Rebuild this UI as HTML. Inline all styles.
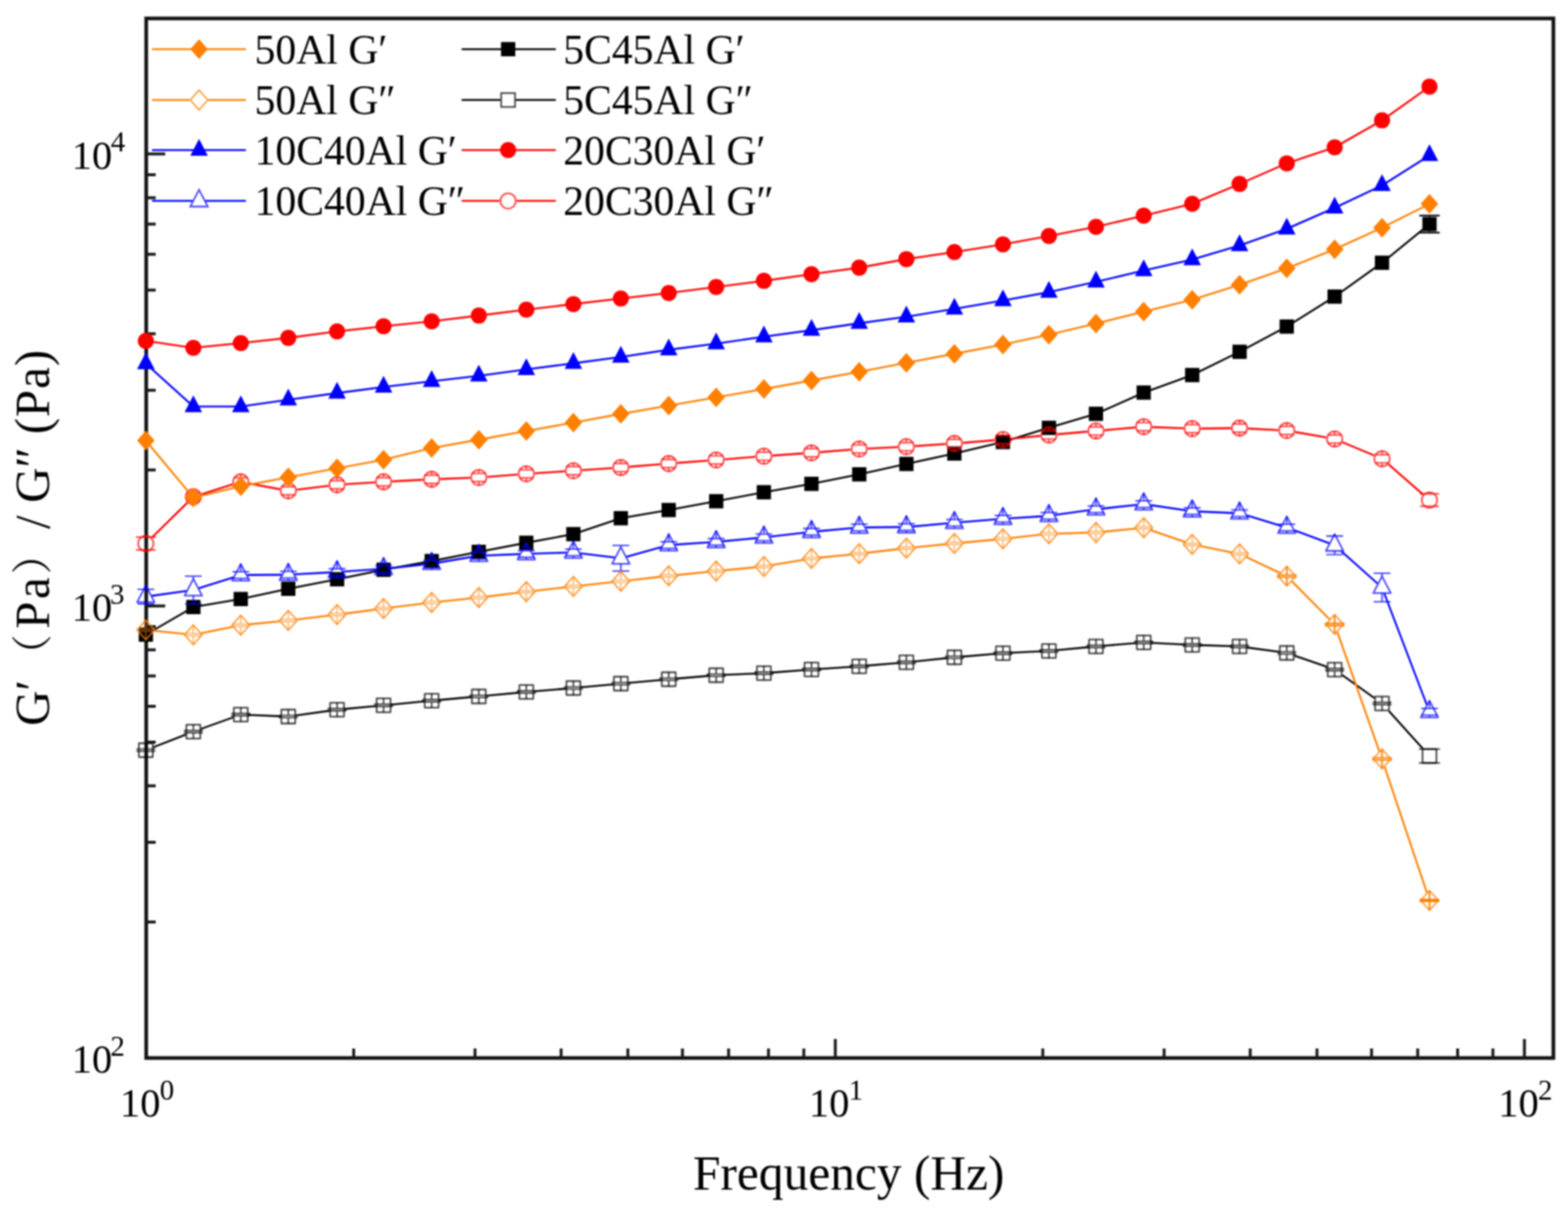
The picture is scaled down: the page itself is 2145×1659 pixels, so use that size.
<!DOCTYPE html>
<html><head><meta charset="utf-8"><title>G' / G'' vs Frequency</title>
<style>
html,body{margin:0;padding:0;background:#fff;}
body{width:2145px;height:1659px;overflow:hidden;}
svg{display:block;filter:blur(1px);}
text{font-family:"Liberation Serif","Noto Serif CJK SC",serif;fill:#000;}
</style></head><body>
<svg width="2145" height="1659" viewBox="0 0 2145 1659">
<rect width="2145" height="1659" fill="#fff"/>
<g stroke="#000" fill="none">
<rect x="200" y="25.2" width="1925" height="1421.8" stroke-width="5" stroke="#111"/>
<path d="M483.8 1447V1434M649.8 1447V1434M767.6 1447V1434M858.9 1447V1434M933.6 1447V1434M996.7 1447V1434M1051.3 1447V1434M1099.6 1447V1434M1142.7 1447V1421M1426.5 1447V1434M1592.5 1447V1434M1710.3 1447V1434M1801.6 1447V1434M1876.3 1447V1434M1939.4 1447V1434M1994 1447V1434M2042.3 1447V1434M2085.4 1447V1421M200 1260.9H213M200 1152H213M200 1074.8H213M200 1014.9H213M200 965.9H213M200 924.6H213M200 888.7H213M200 857.1H213M200 828.8H226M200 642.7H213M200 533.8H213M200 456.6H213M200 396.7H213M200 347.7H213M200 306.4H213M200 270.5H213M200 238.9H213M200 210.6H226" stroke-width="4" stroke="#1a1a1a"/>
</g>
<g stroke-linejoin="round">
<path d="M210 1021.9L254 1004.8M275 996.9L318.9 981.1M339.9 977.7L383.9 979.6M404.9 978.5L450.6 972.1M471.6 969.6L514.2 965.7M535.2 963.7L580 959.3M601 957.4L644.5 953.4M665.5 951.5L709.5 947.4M730.5 945.5L773.9 941.9M794.9 940L838.8 936M859.8 934L904.3 930M925.3 928.1L969.2 924.4M990.2 923L1034.5 921.2M1055.5 919.9L1099.6 916.5M1120.6 915L1164.9 912M1185.9 910.4L1229.4 906.8M1250.4 904.8L1295.1 900.1M1316.1 898.1L1361.5 894.2M1382.5 892.8L1424.4 890.8M1445.4 889.3L1488.8 885.1M1509.8 883.2L1554.1 879.5M1575.1 879.2L1620.4 881.5M1641.4 882.4L1685.2 883.8M1706.2 885.6L1749.8 891.5M1770.8 896.7L1815.3 912.1M1836.2 923.2L1880.2 954.7M1899.9 972.4L1946.2 1023.7" fill="none" stroke="#000000" stroke-width="2.6"/>
<rect x="190" y="1016.5" width="19" height="19" fill="none" stroke="#000000" stroke-width="2.3" stroke-opacity="0.72"/>
<path d="M199.5 1016.2V1024.5M199.5 1035.8V1027.5M186.5 1024.5H212.5M186.5 1027.5H212.5" stroke="#000000" stroke-width="2.2" stroke-opacity="0.72" fill="none"/>
<rect x="255" y="991.2" width="19" height="19" fill="none" stroke="#000000" stroke-width="2.3" stroke-opacity="0.72"/>
<path d="M264.5 991V999.2M264.5 1010.5V1002.2M251.5 999.2H277.5M251.5 1002.2H277.5" stroke="#000000" stroke-width="2.2" stroke-opacity="0.72" fill="none"/>
<rect x="319.9" y="967.8" width="19" height="19" fill="none" stroke="#000000" stroke-width="2.3" stroke-opacity="0.72"/>
<path d="M329.4 967.5V975.8M329.4 987V978.8M316.4 975.8H342.4M316.4 978.8H342.4" stroke="#000000" stroke-width="2.2" stroke-opacity="0.72" fill="none"/>
<rect x="384.9" y="970.5" width="19" height="19" fill="none" stroke="#000000" stroke-width="2.3" stroke-opacity="0.72"/>
<path d="M394.4 970.2V978.5M394.4 989.8V981.5M381.4 978.5H407.4M381.4 981.5H407.4" stroke="#000000" stroke-width="2.2" stroke-opacity="0.72" fill="none"/>
<rect x="451.6" y="961.1" width="19" height="19" fill="none" stroke="#000000" stroke-width="2.3" stroke-opacity="0.72"/>
<path d="M461.1 960.9V969.1M461.1 980.4V972.1M448.1 969.1H474.1M448.1 972.1H474.1" stroke="#000000" stroke-width="2.2" stroke-opacity="0.72" fill="none"/>
<rect x="515.2" y="955.2" width="19" height="19" fill="none" stroke="#000000" stroke-width="2.3" stroke-opacity="0.72"/>
<path d="M524.7 955V963.2M524.7 974.5V966.2M511.7 963.2H537.7M511.7 966.2H537.7" stroke="#000000" stroke-width="2.2" stroke-opacity="0.72" fill="none"/>
<rect x="581" y="948.8" width="19" height="19" fill="none" stroke="#000000" stroke-width="2.3" stroke-opacity="0.72"/>
<path d="M590.5 948.5V956.8M590.5 968V959.8M577.5 956.8H603.5M577.5 959.8H603.5" stroke="#000000" stroke-width="2.2" stroke-opacity="0.72" fill="none"/>
<rect x="645.5" y="943" width="19" height="19" fill="none" stroke="#000000" stroke-width="2.3" stroke-opacity="0.72"/>
<path d="M655 942.8V951M655 962.2V954M642 951H668M642 954H668" stroke="#000000" stroke-width="2.2" stroke-opacity="0.72" fill="none"/>
<rect x="710.5" y="936.9" width="19" height="19" fill="none" stroke="#000000" stroke-width="2.3" stroke-opacity="0.72"/>
<path d="M720 936.6V944.9M720 956.1V947.9M707 944.9H733M707 947.9H733" stroke="#000000" stroke-width="2.2" stroke-opacity="0.72" fill="none"/>
<rect x="774.9" y="931.5" width="19" height="19" fill="none" stroke="#000000" stroke-width="2.3" stroke-opacity="0.72"/>
<path d="M784.4 931.2V939.5M784.4 950.8V942.5M771.4 939.5H797.4M771.4 942.5H797.4" stroke="#000000" stroke-width="2.2" stroke-opacity="0.72" fill="none"/>
<rect x="839.8" y="925.5" width="19" height="19" fill="none" stroke="#000000" stroke-width="2.3" stroke-opacity="0.72"/>
<path d="M849.3 925.2V933.5M849.3 944.8V936.5M836.3 933.5H862.3M836.3 936.5H862.3" stroke="#000000" stroke-width="2.2" stroke-opacity="0.72" fill="none"/>
<rect x="905.3" y="919.5" width="19" height="19" fill="none" stroke="#000000" stroke-width="2.3" stroke-opacity="0.72"/>
<path d="M914.8 919.2V927.5M914.8 938.8V930.5M901.8 927.5H927.8M901.8 930.5H927.8" stroke="#000000" stroke-width="2.2" stroke-opacity="0.72" fill="none"/>
<rect x="970.2" y="914" width="19" height="19" fill="none" stroke="#000000" stroke-width="2.3" stroke-opacity="0.72"/>
<path d="M979.7 913.8V922M979.7 933.2V925M966.7 922H992.7M966.7 925H992.7" stroke="#000000" stroke-width="2.2" stroke-opacity="0.72" fill="none"/>
<rect x="1035.5" y="911.2" width="19" height="19" fill="none" stroke="#000000" stroke-width="2.3" stroke-opacity="0.72"/>
<path d="M1045 911V919.2M1045 930.5V922.2M1032 919.2H1058M1032 922.2H1058" stroke="#000000" stroke-width="2.2" stroke-opacity="0.72" fill="none"/>
<rect x="1100.6" y="906.2" width="19" height="19" fill="none" stroke="#000000" stroke-width="2.3" stroke-opacity="0.72"/>
<path d="M1110.1 906V914.2M1110.1 925.5V917.2M1097.1 914.2H1123.1M1097.1 917.2H1123.1" stroke="#000000" stroke-width="2.2" stroke-opacity="0.72" fill="none"/>
<rect x="1165.9" y="901.8" width="19" height="19" fill="none" stroke="#000000" stroke-width="2.3" stroke-opacity="0.72"/>
<path d="M1175.4 901.5V909.8M1175.4 921V912.8M1162.4 909.8H1188.4M1162.4 912.8H1188.4" stroke="#000000" stroke-width="2.2" stroke-opacity="0.72" fill="none"/>
<rect x="1230.4" y="896.4" width="19" height="19" fill="none" stroke="#000000" stroke-width="2.3" stroke-opacity="0.72"/>
<path d="M1239.9 896.1V904.4M1239.9 915.6V907.4M1226.9 904.4H1252.9M1226.9 907.4H1252.9" stroke="#000000" stroke-width="2.2" stroke-opacity="0.72" fill="none"/>
<rect x="1296.1" y="889.5" width="19" height="19" fill="none" stroke="#000000" stroke-width="2.3" stroke-opacity="0.72"/>
<path d="M1305.6 889.2V897.5M1305.6 908.8V900.5M1292.6 897.5H1318.6M1292.6 900.5H1318.6" stroke="#000000" stroke-width="2.2" stroke-opacity="0.72" fill="none"/>
<rect x="1362.5" y="883.8" width="19" height="19" fill="none" stroke="#000000" stroke-width="2.3" stroke-opacity="0.72"/>
<path d="M1372 883.5V891.8M1372 903V894.8M1359 891.8H1385M1359 894.8H1385" stroke="#000000" stroke-width="2.2" stroke-opacity="0.72" fill="none"/>
<rect x="1425.4" y="880.8" width="19" height="19" fill="none" stroke="#000000" stroke-width="2.3" stroke-opacity="0.72"/>
<path d="M1434.9 880.5V888.8M1434.9 900V891.8M1421.9 888.8H1447.9M1421.9 891.8H1447.9" stroke="#000000" stroke-width="2.2" stroke-opacity="0.72" fill="none"/>
<rect x="1489.8" y="874.6" width="19" height="19" fill="none" stroke="#000000" stroke-width="2.3" stroke-opacity="0.72"/>
<path d="M1499.3 874.4V882.6M1499.3 893.9V885.6M1486.3 882.6H1512.3M1486.3 885.6H1512.3" stroke="#000000" stroke-width="2.2" stroke-opacity="0.72" fill="none"/>
<rect x="1555.1" y="869.1" width="19" height="19" fill="none" stroke="#000000" stroke-width="2.3" stroke-opacity="0.72"/>
<path d="M1564.6 868.9V877.1M1564.6 888.4V880.1M1551.6 877.1H1577.6M1551.6 880.1H1577.6" stroke="#000000" stroke-width="2.2" stroke-opacity="0.72" fill="none"/>
<rect x="1621.4" y="872.6" width="19" height="19" fill="none" stroke="#000000" stroke-width="2.3" stroke-opacity="0.72"/>
<path d="M1630.9 872.4V880.6M1630.9 891.9V883.6M1617.9 880.6H1643.9M1617.9 883.6H1643.9" stroke="#000000" stroke-width="2.2" stroke-opacity="0.72" fill="none"/>
<rect x="1686.2" y="874.6" width="19" height="19" fill="none" stroke="#000000" stroke-width="2.3" stroke-opacity="0.72"/>
<path d="M1695.7 874.4V882.6M1695.7 893.9V885.6M1682.7 882.6H1708.7M1682.7 885.6H1708.7" stroke="#000000" stroke-width="2.2" stroke-opacity="0.72" fill="none"/>
<rect x="1750.8" y="883.5" width="19" height="19" fill="none" stroke="#000000" stroke-width="2.3" stroke-opacity="0.72"/>
<path d="M1760.3 883.2V891.5M1760.3 902.8V894.5M1747.3 891.5H1773.3M1747.3 894.5H1773.3" stroke="#000000" stroke-width="2.2" stroke-opacity="0.72" fill="none"/>
<rect x="1816.3" y="906.3" width="19" height="19" fill="none" stroke="#000000" stroke-width="2.3" stroke-opacity="0.72"/>
<path d="M1825.8 906V914.3M1825.8 925.5V917.3M1812.8 914.3H1838.8M1812.8 917.3H1838.8" stroke="#000000" stroke-width="2.2" stroke-opacity="0.72" fill="none"/>
<rect x="1881.1" y="952.6" width="19" height="19" fill="none" stroke="#000000" stroke-width="2.3" stroke-opacity="0.72"/>
<path d="M1890.6 952.4V960.6M1890.6 971.9V963.6M1877.6 960.6H1903.6M1877.6 963.6H1903.6" stroke="#000000" stroke-width="2.2" stroke-opacity="0.72" fill="none"/>
<rect x="1946" y="1024.5" width="19" height="19" fill="none" stroke="#000000" stroke-width="2.3" stroke-opacity="0.72"/>
<path d="M1955.5 1024.2V1024.5M1955.5 1043.8V1043.5M1941 1024.5H1970M1941 1043.5H1970" stroke="#000000" stroke-width="2.2" stroke-opacity="0.72" fill="none"/>
<polyline points="199.5,868 264.5,830.2 329.4,819.3 394.4,805.2 461.1,792.2 524.7,779.2 590.5,767.4 655,754.8 720,742.4 784.4,730.5 849.3,708.8 914.8,697.5 979.7,685.5 1045,673.3 1110.1,661.8 1175.4,648.8 1239.9,634.5 1305.6,620.2 1372,604.5 1434.9,585.1 1499.3,566 1564.6,537 1630.9,513 1695.7,481.1 1760.3,446.6 1825.8,405.7 1890.6,359.4 1955.5,306.5" fill="none" stroke="#000000" stroke-width="2.6"/>
<rect x="189.8" y="858.2" width="19.5" height="19.5" fill="#000000"/>

<rect x="254.8" y="820.5" width="19.5" height="19.5" fill="#000000"/>

<rect x="319.6" y="809.5" width="19.5" height="19.5" fill="#000000"/>

<rect x="384.6" y="795.5" width="19.5" height="19.5" fill="#000000"/>

<rect x="451.4" y="782.5" width="19.5" height="19.5" fill="#000000"/>

<rect x="515" y="769.5" width="19.5" height="19.5" fill="#000000"/>

<rect x="580.8" y="757.6" width="19.5" height="19.5" fill="#000000"/>

<rect x="645.2" y="745" width="19.5" height="19.5" fill="#000000"/>

<rect x="710.2" y="732.6" width="19.5" height="19.5" fill="#000000"/>

<rect x="774.6" y="720.8" width="19.5" height="19.5" fill="#000000"/>

<rect x="839.5" y="699" width="19.5" height="19.5" fill="#000000"/>

<rect x="905" y="687.8" width="19.5" height="19.5" fill="#000000"/>

<rect x="970" y="675.8" width="19.5" height="19.5" fill="#000000"/>

<rect x="1035.2" y="663.5" width="19.5" height="19.5" fill="#000000"/>

<rect x="1100.3" y="652" width="19.5" height="19.5" fill="#000000"/>

<rect x="1165.7" y="639" width="19.5" height="19.5" fill="#000000"/>

<rect x="1230.2" y="624.8" width="19.5" height="19.5" fill="#000000"/>

<rect x="1295.8" y="610.5" width="19.5" height="19.5" fill="#000000"/>

<rect x="1362.2" y="594.8" width="19.5" height="19.5" fill="#000000"/>

<rect x="1425.2" y="575.4" width="19.5" height="19.5" fill="#000000"/>

<rect x="1489.5" y="556.2" width="19.5" height="19.5" fill="#000000"/>

<rect x="1554.8" y="527.2" width="19.5" height="19.5" fill="#000000"/>

<rect x="1621.2" y="503.2" width="19.5" height="19.5" fill="#000000"/>

<rect x="1686" y="471.4" width="19.5" height="19.5" fill="#000000"/>

<rect x="1750.5" y="436.9" width="19.5" height="19.5" fill="#000000"/>

<rect x="1816" y="395.9" width="19.5" height="19.5" fill="#000000"/>

<rect x="1880.8" y="349.6" width="19.5" height="19.5" fill="#000000"/>

<rect x="1945.8" y="296.8" width="19.5" height="19.5" fill="#000000"/>
<path d="M1955.5 296.8V294.8M1955.5 316.2V318.2M1941.5 294.8H1969.5M1941.5 318.2H1969.5" stroke="#000000" stroke-width="2.2" fill="none"/>
<path d="M207.8 814.9L255.1 808.3M272.1 804.6L319.1 789.8M338.2 786.4L385.6 786.1M403 785.5L452.1 782.9M469.6 781.8L515.6 778.6M533.1 777.1L581.2 772M598.6 769.6L645.4 761.6M663.6 759.7L711 757.9M728.7 757.3L775.5 755.8M793.7 756.7L841 762.5M857.1 761.4L904.7 748.3M923.3 744.9L970.6 741.8M988.1 740.4L1035.8 735.9M1053.3 734L1100.8 728.5M1118.5 726.6L1166.2 722.3M1184.2 721.4L1231.1 720.9M1248.3 720.1L1296.4 715.8M1314.1 714.3L1362.8 710.3M1380.5 709L1425.8 706.1M1443.1 704.3L1489.9 697.8M1507.7 695.6L1555.3 690.5M1574.1 690.9L1622.7 698M1639.9 699.6L1687.1 701.6M1706 705.1L1752.6 719.2M1771 725.5L1818.3 743M1835 754L1884.5 798.1M1893.8 811.9L1951.8 963.9" fill="none" stroke="#0000ff" stroke-width="2.6"/>
<path d="M199.5 800.7L211.5 823.7L187.5 823.7Z" fill="none" stroke="#0000ff" stroke-width="2.3" stroke-opacity="0.72"/>
<path d="M199.5 800.7V806M199.5 823.7V826M188 806H211M188 826H211" stroke="#0000ff" stroke-width="2.2" stroke-opacity="0.72" fill="none"/>
<path d="M264.5 791.7L276.5 814.7L252.5 814.7Z" fill="none" stroke="#0000ff" stroke-width="2.3" stroke-opacity="0.72"/>
<path d="M264.5 791.7V788M264.5 814.7V826M253 788H276M253 826H276" stroke="#0000ff" stroke-width="2.2" stroke-opacity="0.72" fill="none"/>
<path d="M329.4 771.2L341.4 794.2L317.4 794.2Z" fill="none" stroke="#0000ff" stroke-width="2.3" stroke-opacity="0.72"/>
<path d="M329.4 771.2V782M329.4 794.2V791M317.9 782H340.9M317.9 791H340.9" stroke="#0000ff" stroke-width="2.2" stroke-opacity="0.72" fill="none"/>
<path d="M394.4 770.7L406.4 793.7L382.4 793.7Z" fill="none" stroke="#0000ff" stroke-width="2.3" stroke-opacity="0.72"/>
<path d="M394.4 770.7V781.5M394.4 793.7V790.5M382.9 781.5H405.9M382.9 790.5H405.9" stroke="#0000ff" stroke-width="2.2" stroke-opacity="0.72" fill="none"/>
<path d="M461.1 767.1L473.1 790.1L449.1 790.1Z" fill="none" stroke="#0000ff" stroke-width="2.3" stroke-opacity="0.72"/>
<path d="M461.1 767.1V777.9M461.1 790.1V786.9M449.6 777.9H472.6M449.6 786.9H472.6" stroke="#0000ff" stroke-width="2.2" stroke-opacity="0.72" fill="none"/>
<path d="M524.7 762.7L536.7 785.7L512.7 785.7Z" fill="none" stroke="#0000ff" stroke-width="2.3" stroke-opacity="0.72"/>
<path d="M524.7 762.7V773.5M524.7 785.7V782.5M513.2 773.5H536.2M513.2 782.5H536.2" stroke="#0000ff" stroke-width="2.2" stroke-opacity="0.72" fill="none"/>
<path d="M590.5 755.7L602.5 778.7L578.5 778.7Z" fill="none" stroke="#0000ff" stroke-width="2.3" stroke-opacity="0.72"/>
<path d="M590.5 755.7V766.5M590.5 778.7V775.5M579 766.5H602M579 775.5H602" stroke="#0000ff" stroke-width="2.2" stroke-opacity="0.72" fill="none"/>
<path d="M655 744.7L667 767.7L643 767.7Z" fill="none" stroke="#0000ff" stroke-width="2.3" stroke-opacity="0.72"/>
<path d="M655 744.7V755.5M655 767.7V764.5M643.5 755.5H666.5M643.5 764.5H666.5" stroke="#0000ff" stroke-width="2.2" stroke-opacity="0.72" fill="none"/>
<path d="M720 742.3L732 765.3L708 765.3Z" fill="none" stroke="#0000ff" stroke-width="2.3" stroke-opacity="0.72"/>
<path d="M720 742.3V753.1M720 765.3V762.1M708.5 753.1H731.5M708.5 762.1H731.5" stroke="#0000ff" stroke-width="2.2" stroke-opacity="0.72" fill="none"/>
<path d="M784.4 740.2L796.4 763.2L772.4 763.2Z" fill="none" stroke="#0000ff" stroke-width="2.3" stroke-opacity="0.72"/>
<path d="M784.4 740.2V751M784.4 763.2V760M772.9 751H795.9M772.9 760H795.9" stroke="#0000ff" stroke-width="2.2" stroke-opacity="0.72" fill="none"/>
<path d="M849.3 748.2L861.3 771.2L837.3 771.2Z" fill="none" stroke="#0000ff" stroke-width="2.3" stroke-opacity="0.72"/>
<path d="M849.3 748.2V746M849.3 771.2V781M837.8 746H860.8M837.8 781H860.8" stroke="#0000ff" stroke-width="2.2" stroke-opacity="0.72" fill="none"/>
<path d="M914.8 730.2L926.8 753.2L902.8 753.2Z" fill="none" stroke="#0000ff" stroke-width="2.3" stroke-opacity="0.72"/>
<path d="M914.8 730.2V741M914.8 753.2V750M903.3 741H926.3M903.3 750H926.3" stroke="#0000ff" stroke-width="2.2" stroke-opacity="0.72" fill="none"/>
<path d="M979.7 725.9L991.7 748.9L967.7 748.9Z" fill="none" stroke="#0000ff" stroke-width="2.3" stroke-opacity="0.72"/>
<path d="M979.7 725.9V736.7M979.7 748.9V745.7M968.2 736.7H991.2M968.2 745.7H991.2" stroke="#0000ff" stroke-width="2.2" stroke-opacity="0.72" fill="none"/>
<path d="M1045 719.7L1057 742.7L1033 742.7Z" fill="none" stroke="#0000ff" stroke-width="2.3" stroke-opacity="0.72"/>
<path d="M1045 719.7V730.5M1045 742.7V739.5M1033.5 730.5H1056.5M1033.5 739.5H1056.5" stroke="#0000ff" stroke-width="2.2" stroke-opacity="0.72" fill="none"/>
<path d="M1110.1 712.1L1122.1 735.1L1098.1 735.1Z" fill="none" stroke="#0000ff" stroke-width="2.3" stroke-opacity="0.72"/>
<path d="M1110.1 712.1V722.9M1110.1 735.1V731.9M1098.6 722.9H1121.6M1098.6 731.9H1121.6" stroke="#0000ff" stroke-width="2.2" stroke-opacity="0.72" fill="none"/>
<path d="M1175.4 706.2L1187.4 729.2L1163.4 729.2Z" fill="none" stroke="#0000ff" stroke-width="2.3" stroke-opacity="0.72"/>
<path d="M1175.4 706.2V717M1175.4 729.2V726M1163.9 717H1186.9M1163.9 726H1186.9" stroke="#0000ff" stroke-width="2.2" stroke-opacity="0.72" fill="none"/>
<path d="M1239.9 705.5L1251.9 728.5L1227.9 728.5Z" fill="none" stroke="#0000ff" stroke-width="2.3" stroke-opacity="0.72"/>
<path d="M1239.9 705.5V716.3M1239.9 728.5V725.3M1228.4 716.3H1251.4M1228.4 725.3H1251.4" stroke="#0000ff" stroke-width="2.2" stroke-opacity="0.72" fill="none"/>
<path d="M1305.6 699.7L1317.6 722.7L1293.6 722.7Z" fill="none" stroke="#0000ff" stroke-width="2.3" stroke-opacity="0.72"/>
<path d="M1305.6 699.7V710.5M1305.6 722.7V719.5M1294.1 710.5H1317.1M1294.1 719.5H1317.1" stroke="#0000ff" stroke-width="2.2" stroke-opacity="0.72" fill="none"/>
<path d="M1372 694.2L1384 717.2L1360 717.2Z" fill="none" stroke="#0000ff" stroke-width="2.3" stroke-opacity="0.72"/>
<path d="M1372 694.2V705M1372 717.2V714M1360.5 705H1383.5M1360.5 714H1383.5" stroke="#0000ff" stroke-width="2.2" stroke-opacity="0.72" fill="none"/>
<path d="M1434.9 690.2L1446.9 713.2L1422.9 713.2Z" fill="none" stroke="#0000ff" stroke-width="2.3" stroke-opacity="0.72"/>
<path d="M1434.9 690.2V701M1434.9 713.2V710M1423.4 701H1446.4M1423.4 710H1446.4" stroke="#0000ff" stroke-width="2.2" stroke-opacity="0.72" fill="none"/>
<path d="M1499.3 681.2L1511.3 704.2L1487.3 704.2Z" fill="none" stroke="#0000ff" stroke-width="2.3" stroke-opacity="0.72"/>
<path d="M1499.3 681.2V692M1499.3 704.2V701M1487.8 692H1510.8M1487.8 701H1510.8" stroke="#0000ff" stroke-width="2.2" stroke-opacity="0.72" fill="none"/>
<path d="M1564.6 674.2L1576.6 697.2L1552.6 697.2Z" fill="none" stroke="#0000ff" stroke-width="2.3" stroke-opacity="0.72"/>
<path d="M1564.6 674.2V685M1564.6 697.2V694M1553.1 685H1576.1M1553.1 694H1576.1" stroke="#0000ff" stroke-width="2.2" stroke-opacity="0.72" fill="none"/>
<path d="M1630.9 683.9L1642.9 706.9L1618.9 706.9Z" fill="none" stroke="#0000ff" stroke-width="2.3" stroke-opacity="0.72"/>
<path d="M1630.9 683.9V694.7M1630.9 706.9V703.7M1619.4 694.7H1642.4M1619.4 703.7H1642.4" stroke="#0000ff" stroke-width="2.2" stroke-opacity="0.72" fill="none"/>
<path d="M1695.7 686.7L1707.7 709.7L1683.7 709.7Z" fill="none" stroke="#0000ff" stroke-width="2.3" stroke-opacity="0.72"/>
<path d="M1695.7 686.7V697.5M1695.7 709.7V706.5M1684.2 697.5H1707.2M1684.2 706.5H1707.2" stroke="#0000ff" stroke-width="2.2" stroke-opacity="0.72" fill="none"/>
<path d="M1760.3 706.2L1772.3 729.2L1748.3 729.2Z" fill="none" stroke="#0000ff" stroke-width="2.3" stroke-opacity="0.72"/>
<path d="M1760.3 706.2V717M1760.3 729.2V726M1748.8 717H1771.8M1748.8 726H1771.8" stroke="#0000ff" stroke-width="2.2" stroke-opacity="0.72" fill="none"/>
<path d="M1825.8 730.5L1837.8 753.5L1813.8 753.5Z" fill="none" stroke="#0000ff" stroke-width="2.3" stroke-opacity="0.72"/>
<path d="M1825.8 730.5V733.1M1825.8 753.5V758.5M1814.3 733.1H1837.3M1814.3 758.5H1837.3" stroke="#0000ff" stroke-width="2.2" stroke-opacity="0.72" fill="none"/>
<path d="M1890.6 788.2L1902.6 811.2L1878.6 811.2Z" fill="none" stroke="#0000ff" stroke-width="2.3" stroke-opacity="0.72"/>
<path d="M1890.6 788.2V784M1890.6 811.2V823M1879.1 784H1902.1M1879.1 823H1902.1" stroke="#0000ff" stroke-width="2.2" stroke-opacity="0.72" fill="none"/>
<path d="M1955.5 958.2L1967.5 981.2L1943.5 981.2Z" fill="none" stroke="#0000ff" stroke-width="2.3" stroke-opacity="0.72"/>
<path d="M1955.5 958.2V969M1955.5 981.2V978M1944 969H1967M1944 978H1967" stroke="#0000ff" stroke-width="2.2" stroke-opacity="0.72" fill="none"/>
<path d="M211.3 862.8L252.7 867M275.5 866L318.4 857.3M341.2 853.9L382.6 849.8M406 847.2L449.5 842M472.6 839.1L513.2 833.8M536.3 830.8L578.9 825.5M602.3 822.8L643.2 818.5M666.6 815.9L708.4 810.7M731.7 808L772.7 803.4M796.1 800.8L837.6 796.3M861 793.7L903.1 788.9M926.6 786.4L967.9 782.3M991.5 779.9L1033.2 775.9M1056.2 772.8L1098.9 765.7M1121.9 762.6L1163.6 758.5M1187.1 755.9L1228.2 751.1M1251.7 748.5L1293.8 744.4M1317.5 742.1L1360.1 738.1M1383.7 735.7L1423.2 731.3M1447.4 729.7L1486.8 728.6M1511.1 727.1L1552.8 723M1574.5 725.2L1621 741.2M1641.9 746.8L1684.7 755.4M1704.9 761.9L1751.1 783.7M1767.2 795L1818.9 847.1M1829.5 864.5L1886.9 1027.6M1894.1 1048.6L1952 1220.9" fill="none" stroke="#ff7f00" stroke-width="2.6"/>
<path d="M199.5 848.1L211.5 861.6L199.5 875.1L187.5 861.6Z" fill="none" stroke="#ff7f00" stroke-width="2.3" stroke-opacity="0.72"/>
<path d="M199.5 848.1V860.1M199.5 875.1V863.1M188.5 860.1H210.5M188.5 863.1H210.5" stroke="#ff7f00" stroke-width="2.2" stroke-opacity="0.5" fill="none"/>
<path d="M264.5 854.7L276.5 868.2L264.5 881.7L252.5 868.2Z" fill="none" stroke="#ff7f00" stroke-width="2.3" stroke-opacity="0.72"/>
<path d="M264.5 854.7V866.7M264.5 881.7V869.7M253.5 866.7H275.5M253.5 869.7H275.5" stroke="#ff7f00" stroke-width="2.2" stroke-opacity="0.5" fill="none"/>
<path d="M329.4 841.6L341.4 855.1L329.4 868.6L317.4 855.1Z" fill="none" stroke="#ff7f00" stroke-width="2.3" stroke-opacity="0.72"/>
<path d="M329.4 841.6V853.6M329.4 868.6V856.6M318.4 853.6H340.4M318.4 856.6H340.4" stroke="#ff7f00" stroke-width="2.2" stroke-opacity="0.5" fill="none"/>
<path d="M394.4 835.1L406.4 848.6L394.4 862.1L382.4 848.6Z" fill="none" stroke="#ff7f00" stroke-width="2.3" stroke-opacity="0.72"/>
<path d="M394.4 835.1V847.1M394.4 862.1V850.1M383.4 847.1H405.4M383.4 850.1H405.4" stroke="#ff7f00" stroke-width="2.2" stroke-opacity="0.5" fill="none"/>
<path d="M461.1 827.1L473.1 840.6L461.1 854.1L449.1 840.6Z" fill="none" stroke="#ff7f00" stroke-width="2.3" stroke-opacity="0.72"/>
<path d="M461.1 827.1V839.1M461.1 854.1V842.1M450.1 839.1H472.1M450.1 842.1H472.1" stroke="#ff7f00" stroke-width="2.2" stroke-opacity="0.5" fill="none"/>
<path d="M524.7 818.8L536.7 832.3L524.7 845.8L512.7 832.3Z" fill="none" stroke="#ff7f00" stroke-width="2.3" stroke-opacity="0.72"/>
<path d="M524.7 818.8V830.8M524.7 845.8V833.8M513.7 830.8H535.7M513.7 833.8H535.7" stroke="#ff7f00" stroke-width="2.2" stroke-opacity="0.5" fill="none"/>
<path d="M590.5 810.5L602.5 824L590.5 837.5L578.5 824Z" fill="none" stroke="#ff7f00" stroke-width="2.3" stroke-opacity="0.72"/>
<path d="M590.5 810.5V822.5M590.5 837.5V825.5M579.5 822.5H601.5M579.5 825.5H601.5" stroke="#ff7f00" stroke-width="2.2" stroke-opacity="0.5" fill="none"/>
<path d="M655 803.8L667 817.3L655 830.8L643 817.3Z" fill="none" stroke="#ff7f00" stroke-width="2.3" stroke-opacity="0.72"/>
<path d="M655 803.8V815.8M655 830.8V818.8M644 815.8H666M644 818.8H666" stroke="#ff7f00" stroke-width="2.2" stroke-opacity="0.5" fill="none"/>
<path d="M720 795.8L732 809.3L720 822.8L708 809.3Z" fill="none" stroke="#ff7f00" stroke-width="2.3" stroke-opacity="0.72"/>
<path d="M720 795.8V807.8M720 822.8V810.8M709 807.8H731M709 810.8H731" stroke="#ff7f00" stroke-width="2.2" stroke-opacity="0.5" fill="none"/>
<path d="M784.4 788.6L796.4 802.1L784.4 815.6L772.4 802.1Z" fill="none" stroke="#ff7f00" stroke-width="2.3" stroke-opacity="0.72"/>
<path d="M784.4 788.6V800.6M784.4 815.6V803.6M773.4 800.6H795.4M773.4 803.6H795.4" stroke="#ff7f00" stroke-width="2.2" stroke-opacity="0.5" fill="none"/>
<path d="M849.3 781.5L861.3 795L849.3 808.5L837.3 795Z" fill="none" stroke="#ff7f00" stroke-width="2.3" stroke-opacity="0.72"/>
<path d="M849.3 781.5V793.5M849.3 808.5V796.5M838.3 793.5H860.3M838.3 796.5H860.3" stroke="#ff7f00" stroke-width="2.2" stroke-opacity="0.5" fill="none"/>
<path d="M914.8 774.1L926.8 787.6L914.8 801.1L902.8 787.6Z" fill="none" stroke="#ff7f00" stroke-width="2.3" stroke-opacity="0.72"/>
<path d="M914.8 774.1V786.1M914.8 801.1V789.1M903.8 786.1H925.8M903.8 789.1H925.8" stroke="#ff7f00" stroke-width="2.2" stroke-opacity="0.5" fill="none"/>
<path d="M979.7 767.6L991.7 781.1L979.7 794.6L967.7 781.1Z" fill="none" stroke="#ff7f00" stroke-width="2.3" stroke-opacity="0.72"/>
<path d="M979.7 767.6V779.6M979.7 794.6V782.6M968.7 779.6H990.7M968.7 782.6H990.7" stroke="#ff7f00" stroke-width="2.2" stroke-opacity="0.5" fill="none"/>
<path d="M1045 761.2L1057 774.7L1045 788.2L1033 774.7Z" fill="none" stroke="#ff7f00" stroke-width="2.3" stroke-opacity="0.72"/>
<path d="M1045 761.2V773.2M1045 788.2V776.2M1034 773.2H1056M1034 776.2H1056" stroke="#ff7f00" stroke-width="2.2" stroke-opacity="0.5" fill="none"/>
<path d="M1110.1 750.3L1122.1 763.8L1110.1 777.3L1098.1 763.8Z" fill="none" stroke="#ff7f00" stroke-width="2.3" stroke-opacity="0.72"/>
<path d="M1110.1 750.3V762.3M1110.1 777.3V765.3M1099.1 762.3H1121.1M1099.1 765.3H1121.1" stroke="#ff7f00" stroke-width="2.2" stroke-opacity="0.5" fill="none"/>
<path d="M1175.4 743.8L1187.4 757.3L1175.4 770.8L1163.4 757.3Z" fill="none" stroke="#ff7f00" stroke-width="2.3" stroke-opacity="0.72"/>
<path d="M1175.4 743.8V755.8M1175.4 770.8V758.8M1164.4 755.8H1186.4M1164.4 758.8H1186.4" stroke="#ff7f00" stroke-width="2.2" stroke-opacity="0.5" fill="none"/>
<path d="M1239.9 736.2L1251.9 749.7L1239.9 763.2L1227.9 749.7Z" fill="none" stroke="#ff7f00" stroke-width="2.3" stroke-opacity="0.72"/>
<path d="M1239.9 736.2V748.2M1239.9 763.2V751.2M1228.9 748.2H1250.9M1228.9 751.2H1250.9" stroke="#ff7f00" stroke-width="2.2" stroke-opacity="0.5" fill="none"/>
<path d="M1305.6 729.7L1317.6 743.2L1305.6 756.7L1293.6 743.2Z" fill="none" stroke="#ff7f00" stroke-width="2.3" stroke-opacity="0.72"/>
<path d="M1305.6 729.7V741.7M1305.6 756.7V744.7M1294.6 741.7H1316.6M1294.6 744.7H1316.6" stroke="#ff7f00" stroke-width="2.2" stroke-opacity="0.5" fill="none"/>
<path d="M1372 723.5L1384 737L1372 750.5L1360 737Z" fill="none" stroke="#ff7f00" stroke-width="2.3" stroke-opacity="0.72"/>
<path d="M1372 723.5V735.5M1372 750.5V738.5M1361 735.5H1383M1361 738.5H1383" stroke="#ff7f00" stroke-width="2.2" stroke-opacity="0.5" fill="none"/>
<path d="M1434.9 716.5L1446.9 730L1434.9 743.5L1422.9 730Z" fill="none" stroke="#ff7f00" stroke-width="2.3" stroke-opacity="0.72"/>
<path d="M1434.9 716.5V728.5M1434.9 743.5V731.5M1423.9 728.5H1445.9M1423.9 731.5H1445.9" stroke="#ff7f00" stroke-width="2.2" stroke-opacity="0.5" fill="none"/>
<path d="M1499.3 714.8L1511.3 728.3L1499.3 741.8L1487.3 728.3Z" fill="none" stroke="#ff7f00" stroke-width="2.3" stroke-opacity="0.72"/>
<path d="M1499.3 714.8V726.8M1499.3 741.8V729.8M1488.3 726.8H1510.3M1488.3 729.8H1510.3" stroke="#ff7f00" stroke-width="2.2" stroke-opacity="0.5" fill="none"/>
<path d="M1564.6 708.3L1576.6 721.8L1564.6 735.3L1552.6 721.8Z" fill="none" stroke="#ff7f00" stroke-width="2.3" stroke-opacity="0.72"/>
<path d="M1564.6 708.3V720.3M1564.6 735.3V723.3M1553.6 720.3H1575.6M1553.6 723.3H1575.6" stroke="#ff7f00" stroke-width="2.2" stroke-opacity="0.5" fill="none"/>
<path d="M1630.9 731.1L1642.9 744.6L1630.9 758.1L1618.9 744.6Z" fill="none" stroke="#ff7f00" stroke-width="2.3" stroke-opacity="0.72"/>
<path d="M1630.9 731.1V743.1M1630.9 758.1V746.1M1619.9 743.1H1641.9M1619.9 746.1H1641.9" stroke="#ff7f00" stroke-width="2.2" stroke-opacity="0.5" fill="none"/>
<path d="M1695.7 744.1L1707.7 757.6L1695.7 771.1L1683.7 757.6Z" fill="none" stroke="#ff7f00" stroke-width="2.3" stroke-opacity="0.72"/>
<path d="M1695.7 744.1V756.1M1695.7 771.1V759.1M1684.7 756.1H1706.7M1684.7 759.1H1706.7" stroke="#ff7f00" stroke-width="2.2" stroke-opacity="0.5" fill="none"/>
<path d="M1760.3 774.5L1772.3 788L1760.3 801.5L1748.3 788Z" fill="none" stroke="#ff7f00" stroke-width="2.3" stroke-opacity="0.72"/>
<path d="M1760.3 774.5V786.5M1760.3 801.5V789.5M1746.8 786.5H1773.8M1746.8 789.5H1773.8" stroke="#ff7f00" stroke-width="2.2" fill="none"/>
<path d="M1825.8 840.6L1837.8 854.1L1825.8 867.6L1813.8 854.1Z" fill="none" stroke="#ff7f00" stroke-width="2.3" stroke-opacity="0.72"/>
<path d="M1825.8 840.6V852.6M1825.8 867.6V855.6M1812.3 852.6H1839.3M1812.3 855.6H1839.3" stroke="#ff7f00" stroke-width="2.2" fill="none"/>
<path d="M1890.6 1024.5L1902.6 1038L1890.6 1051.5L1878.6 1038Z" fill="none" stroke="#ff7f00" stroke-width="2.3" stroke-opacity="0.72"/>
<path d="M1890.6 1024.5V1036.5M1890.6 1051.5V1039.5M1877.1 1036.5H1904.1M1877.1 1039.5H1904.1" stroke="#ff7f00" stroke-width="2.2" fill="none"/>
<path d="M1955.5 1218L1967.5 1231.5L1955.5 1245L1943.5 1231.5Z" fill="none" stroke="#ff7f00" stroke-width="2.3" stroke-opacity="0.72"/>
<path d="M1955.5 1218V1230.3M1955.5 1245V1232.7M1942 1230.3H1969M1942 1232.7H1969" stroke="#ff7f00" stroke-width="2.2" fill="none"/>
<path d="M207.9 735.1L256.1 687.8M275.8 675.9L318.1 662.6M341 661.2L382.8 669.1M406.1 669.8L449.4 664.5M472.9 662.3L512.9 659.7M536.5 658.4L578.7 656.1M602.3 655.1L643.2 653.5M666.8 652.2L708.2 649M731.8 647.3L772.6 644.6M796.2 643L837.5 640.2M861.1 638.4L903 635M926.6 633.1L967.9 630M991.5 628.2L1033.2 624.8M1056.8 623.1L1098.3 620.1M1121.9 618.4L1163.6 615M1187.2 613.5L1228.1 611.5M1251.7 610.1L1293.8 607.3M1317.4 605.6L1360.2 602.1M1383.7 600L1423.2 596.1M1446.7 593.9L1487.5 590.4M1511.1 588.4L1552.8 584.6M1576.4 584.1L1619.1 585.7M1642.7 586.1L1683.9 585.6M1707.5 586.1L1748.5 588.2M1771.9 590.9L1814.2 598.3M1836.7 604.9L1879.7 622.9M1899.5 635.1L1946.6 676.2" fill="none" stroke="#ff0000" stroke-width="2.6"/>
<circle cx="199.5" cy="743.4" r="10.5" fill="none" stroke="#ff0000" stroke-width="2.3" stroke-opacity="0.72"/>
<path d="M199.5 732.4V734.7M199.5 754.4V752.1M186 734.7H213M186 752.1H213" stroke="#ff0000" stroke-width="2.2" stroke-opacity="0.72" fill="none"/>
<circle cx="264.5" cy="679.5" r="10.5" fill="none" stroke="#ff0000" stroke-width="2.3" stroke-opacity="0.72"/>
<path d="M264.5 668.5V673.9M264.5 690.5V685.1M255 673.9H274M255 685.1H274" stroke="#ff0000" stroke-width="2.2" stroke-opacity="0.72" fill="none"/>
<circle cx="329.4" cy="659" r="10.5" fill="none" stroke="#ff0000" stroke-width="2.3" stroke-opacity="0.72"/>
<path d="M329.4 648V653.4M329.4 670V664.6M319.9 653.4H338.9M319.9 664.6H338.9" stroke="#ff0000" stroke-width="2.2" stroke-opacity="0.72" fill="none"/>
<circle cx="394.4" cy="671.3" r="10.5" fill="none" stroke="#ff0000" stroke-width="2.3" stroke-opacity="0.72"/>
<path d="M394.4 660.3V665.7M394.4 682.3V676.9M384.9 665.7H403.9M384.9 676.9H403.9" stroke="#ff0000" stroke-width="2.2" stroke-opacity="0.72" fill="none"/>
<circle cx="461.1" cy="663" r="10.5" fill="none" stroke="#ff0000" stroke-width="2.3" stroke-opacity="0.72"/>
<path d="M461.1 652V657.4M461.1 674V668.6M451.6 657.4H470.6M451.6 668.6H470.6" stroke="#ff0000" stroke-width="2.2" stroke-opacity="0.72" fill="none"/>
<circle cx="524.7" cy="659" r="10.5" fill="none" stroke="#ff0000" stroke-width="2.3" stroke-opacity="0.72"/>
<path d="M524.7 648V653.4M524.7 670V664.6M515.2 653.4H534.2M515.2 664.6H534.2" stroke="#ff0000" stroke-width="2.2" stroke-opacity="0.72" fill="none"/>
<circle cx="590.5" cy="655.5" r="10.5" fill="none" stroke="#ff0000" stroke-width="2.3" stroke-opacity="0.72"/>
<path d="M590.5 644.5V649.9M590.5 666.5V661.1M581 649.9H600M581 661.1H600" stroke="#ff0000" stroke-width="2.2" stroke-opacity="0.72" fill="none"/>
<circle cx="655" cy="653.1" r="10.5" fill="none" stroke="#ff0000" stroke-width="2.3" stroke-opacity="0.72"/>
<path d="M655 642.1V647.5M655 664.1V658.7M645.5 647.5H664.5M645.5 658.7H664.5" stroke="#ff0000" stroke-width="2.2" stroke-opacity="0.72" fill="none"/>
<circle cx="720" cy="648.1" r="10.5" fill="none" stroke="#ff0000" stroke-width="2.3" stroke-opacity="0.72"/>
<path d="M720 637.1V642.5M720 659.1V653.7M710.5 642.5H729.5M710.5 653.7H729.5" stroke="#ff0000" stroke-width="2.2" stroke-opacity="0.72" fill="none"/>
<circle cx="784.4" cy="643.8" r="10.5" fill="none" stroke="#ff0000" stroke-width="2.3" stroke-opacity="0.72"/>
<path d="M784.4 632.8V638.2M784.4 654.8V649.4M774.9 638.2H793.9M774.9 649.4H793.9" stroke="#ff0000" stroke-width="2.2" stroke-opacity="0.72" fill="none"/>
<circle cx="849.3" cy="639.4" r="10.5" fill="none" stroke="#ff0000" stroke-width="2.3" stroke-opacity="0.72"/>
<path d="M849.3 628.4V633.8M849.3 650.4V645M839.8 633.8H858.8M839.8 645H858.8" stroke="#ff0000" stroke-width="2.2" stroke-opacity="0.72" fill="none"/>
<circle cx="914.8" cy="634" r="10.5" fill="none" stroke="#ff0000" stroke-width="2.3" stroke-opacity="0.72"/>
<path d="M914.8 623V628.4M914.8 645V639.6M905.3 628.4H924.3M905.3 639.6H924.3" stroke="#ff0000" stroke-width="2.2" stroke-opacity="0.72" fill="none"/>
<circle cx="979.7" cy="629.1" r="10.5" fill="none" stroke="#ff0000" stroke-width="2.3" stroke-opacity="0.72"/>
<path d="M979.7 618.1V623.5M979.7 640.1V634.7M970.2 623.5H989.2M970.2 634.7H989.2" stroke="#ff0000" stroke-width="2.2" stroke-opacity="0.72" fill="none"/>
<circle cx="1045" cy="623.9" r="10.5" fill="none" stroke="#ff0000" stroke-width="2.3" stroke-opacity="0.72"/>
<path d="M1045 612.9V618.3M1045 634.9V629.5M1035.5 618.3H1054.5M1035.5 629.5H1054.5" stroke="#ff0000" stroke-width="2.2" stroke-opacity="0.72" fill="none"/>
<circle cx="1110.1" cy="619.3" r="10.5" fill="none" stroke="#ff0000" stroke-width="2.3" stroke-opacity="0.72"/>
<path d="M1110.1 608.3V613.7M1110.1 630.3V624.9M1100.6 613.7H1119.6M1100.6 624.9H1119.6" stroke="#ff0000" stroke-width="2.2" stroke-opacity="0.72" fill="none"/>
<circle cx="1175.4" cy="614.1" r="10.5" fill="none" stroke="#ff0000" stroke-width="2.3" stroke-opacity="0.72"/>
<path d="M1175.4 603.1V608.5M1175.4 625.1V619.7M1165.9 608.5H1184.9M1165.9 619.7H1184.9" stroke="#ff0000" stroke-width="2.2" stroke-opacity="0.72" fill="none"/>
<circle cx="1239.9" cy="610.9" r="10.5" fill="none" stroke="#ff0000" stroke-width="2.3" stroke-opacity="0.72"/>
<path d="M1239.9 599.9V605.3M1239.9 621.9V616.5M1230.4 605.3H1249.4M1230.4 616.5H1249.4" stroke="#ff0000" stroke-width="2.2" stroke-opacity="0.72" fill="none"/>
<circle cx="1305.6" cy="606.5" r="10.5" fill="none" stroke="#ff0000" stroke-width="2.3" stroke-opacity="0.72"/>
<path d="M1305.6 595.5V600.9M1305.6 617.5V612.1M1296.1 600.9H1315.1M1296.1 612.1H1315.1" stroke="#ff0000" stroke-width="2.2" stroke-opacity="0.72" fill="none"/>
<circle cx="1372" cy="601.2" r="10.5" fill="none" stroke="#ff0000" stroke-width="2.3" stroke-opacity="0.72"/>
<path d="M1372 590.2V595.6M1372 612.2V606.8M1362.5 595.6H1381.5M1362.5 606.8H1381.5" stroke="#ff0000" stroke-width="2.2" stroke-opacity="0.72" fill="none"/>
<circle cx="1434.9" cy="594.9" r="10.5" fill="none" stroke="#ff0000" stroke-width="2.3" stroke-opacity="0.72"/>
<path d="M1434.9 583.9V589.3M1434.9 605.9V600.5M1425.4 589.3H1444.4M1425.4 600.5H1444.4" stroke="#ff0000" stroke-width="2.2" stroke-opacity="0.72" fill="none"/>
<circle cx="1499.3" cy="589.4" r="10.5" fill="none" stroke="#ff0000" stroke-width="2.3" stroke-opacity="0.72"/>
<path d="M1499.3 578.4V583.8M1499.3 600.4V595M1489.8 583.8H1508.8M1489.8 595H1508.8" stroke="#ff0000" stroke-width="2.2" stroke-opacity="0.72" fill="none"/>
<circle cx="1564.6" cy="583.6" r="10.5" fill="none" stroke="#ff0000" stroke-width="2.3" stroke-opacity="0.72"/>
<path d="M1564.6 572.6V578M1564.6 594.6V589.2M1555.1 578H1574.1M1555.1 589.2H1574.1" stroke="#ff0000" stroke-width="2.2" stroke-opacity="0.72" fill="none"/>
<circle cx="1630.9" cy="586.2" r="10.5" fill="none" stroke="#ff0000" stroke-width="2.3" stroke-opacity="0.72"/>
<path d="M1630.9 575.2V580.6M1630.9 597.2V591.8M1621.4 580.6H1640.4M1621.4 591.8H1640.4" stroke="#ff0000" stroke-width="2.2" stroke-opacity="0.72" fill="none"/>
<circle cx="1695.7" cy="585.5" r="10.5" fill="none" stroke="#ff0000" stroke-width="2.3" stroke-opacity="0.72"/>
<path d="M1695.7 574.5V579.9M1695.7 596.5V591.1M1686.2 579.9H1705.2M1686.2 591.1H1705.2" stroke="#ff0000" stroke-width="2.2" stroke-opacity="0.72" fill="none"/>
<circle cx="1760.3" cy="588.8" r="10.5" fill="none" stroke="#ff0000" stroke-width="2.3" stroke-opacity="0.72"/>
<path d="M1760.3 577.8V583.2M1760.3 599.8V594.4M1750.8 583.2H1769.8M1750.8 594.4H1769.8" stroke="#ff0000" stroke-width="2.2" stroke-opacity="0.72" fill="none"/>
<circle cx="1825.8" cy="600.4" r="10.5" fill="none" stroke="#ff0000" stroke-width="2.3" stroke-opacity="0.72"/>
<path d="M1825.8 589.4V594.8M1825.8 611.4V606M1816.3 594.8H1835.3M1816.3 606H1835.3" stroke="#ff0000" stroke-width="2.2" stroke-opacity="0.72" fill="none"/>
<circle cx="1890.6" cy="627.4" r="10.5" fill="none" stroke="#ff0000" stroke-width="2.3" stroke-opacity="0.72"/>
<path d="M1890.6 616.4V621.8M1890.6 638.4V633M1881.1 621.8H1900.1M1881.1 633H1900.1" stroke="#ff0000" stroke-width="2.2" stroke-opacity="0.72" fill="none"/>
<circle cx="1955.5" cy="683.9" r="10.5" fill="none" stroke="#ff0000" stroke-width="2.3" stroke-opacity="0.72"/>
<path d="M1955.5 672.9V675.4M1955.5 694.9V692.4M1942.5 675.4H1968.5M1942.5 692.4H1968.5" stroke="#ff0000" stroke-width="2.2" stroke-opacity="0.72" fill="none"/>
<polyline points="199.5,497.3 264.5,556 329.4,556 394.4,546.8 461.1,537.6 524.7,529.3 590.5,521.5 655,514 720,505.3 784.4,496.9 849.3,488.2 914.8,478.4 979.7,470 1045,460.5 1110.1,451.6 1175.4,442.1 1239.9,433.2 1305.6,422.5 1372,411 1434.9,399.6 1499.3,385.5 1564.6,370.1 1630.9,355.1 1695.7,335.8 1760.3,313 1825.8,284.2 1890.6,253.6 1955.5,212.6" fill="none" stroke="#0000ff" stroke-width="2.6"/>
<path d="M199.5 482L211.5 505L187.5 505Z" fill="#0000ff"/>

<path d="M264.5 540.7L276.5 563.7L252.5 563.7Z" fill="#0000ff"/>

<path d="M329.4 540.7L341.4 563.7L317.4 563.7Z" fill="#0000ff"/>

<path d="M394.4 531.5L406.4 554.5L382.4 554.5Z" fill="#0000ff"/>

<path d="M461.1 522.3L473.1 545.3L449.1 545.3Z" fill="#0000ff"/>

<path d="M524.7 514L536.7 537L512.7 537Z" fill="#0000ff"/>

<path d="M590.5 506.2L602.5 529.2L578.5 529.2Z" fill="#0000ff"/>

<path d="M655 498.7L667 521.7L643 521.7Z" fill="#0000ff"/>

<path d="M720 490L732 513L708 513Z" fill="#0000ff"/>

<path d="M784.4 481.6L796.4 504.6L772.4 504.6Z" fill="#0000ff"/>

<path d="M849.3 472.9L861.3 495.9L837.3 495.9Z" fill="#0000ff"/>

<path d="M914.8 463.1L926.8 486.1L902.8 486.1Z" fill="#0000ff"/>

<path d="M979.7 454.7L991.7 477.7L967.7 477.7Z" fill="#0000ff"/>

<path d="M1045 445.2L1057 468.2L1033 468.2Z" fill="#0000ff"/>

<path d="M1110.1 436.3L1122.1 459.3L1098.1 459.3Z" fill="#0000ff"/>

<path d="M1175.4 426.8L1187.4 449.8L1163.4 449.8Z" fill="#0000ff"/>

<path d="M1239.9 417.9L1251.9 440.9L1227.9 440.9Z" fill="#0000ff"/>

<path d="M1305.6 407.2L1317.6 430.2L1293.6 430.2Z" fill="#0000ff"/>

<path d="M1372 395.7L1384 418.7L1360 418.7Z" fill="#0000ff"/>

<path d="M1434.9 384.3L1446.9 407.3L1422.9 407.3Z" fill="#0000ff"/>

<path d="M1499.3 370.2L1511.3 393.2L1487.3 393.2Z" fill="#0000ff"/>

<path d="M1564.6 354.8L1576.6 377.8L1552.6 377.8Z" fill="#0000ff"/>

<path d="M1630.9 339.8L1642.9 362.8L1618.9 362.8Z" fill="#0000ff"/>

<path d="M1695.7 320.5L1707.7 343.5L1683.7 343.5Z" fill="#0000ff"/>

<path d="M1760.3 297.7L1772.3 320.7L1748.3 320.7Z" fill="#0000ff"/>

<path d="M1825.8 268.9L1837.8 291.9L1813.8 291.9Z" fill="#0000ff"/>

<path d="M1890.6 238.3L1902.6 261.3L1878.6 261.3Z" fill="#0000ff"/>

<path d="M1955.5 197.3L1967.5 220.3L1943.5 220.3Z" fill="#0000ff"/>

<polyline points="199.5,466.2 264.5,475.8 329.4,469.2 394.4,462.1 461.1,453.2 524.7,446.3 590.5,439.5 655,431.6 720,423.5 784.4,415.9 849.3,408.3 914.8,400.8 979.7,392.5 1045,384.1 1110.1,375 1175.4,366.1 1239.9,354.4 1305.6,344.7 1372,334.2 1434.9,322.8 1499.3,310.2 1564.6,295 1630.9,278.7 1695.7,251.6 1760.3,223.4 1825.8,201.5 1890.6,164.6 1955.5,118.5" fill="none" stroke="#ff0000" stroke-width="2.6"/>
<circle cx="199.5" cy="466.2" r="11" fill="#ff0000"/>

<circle cx="264.5" cy="475.8" r="11" fill="#ff0000"/>

<circle cx="329.4" cy="469.2" r="11" fill="#ff0000"/>

<circle cx="394.4" cy="462.1" r="11" fill="#ff0000"/>

<circle cx="461.1" cy="453.2" r="11" fill="#ff0000"/>

<circle cx="524.7" cy="446.3" r="11" fill="#ff0000"/>

<circle cx="590.5" cy="439.5" r="11" fill="#ff0000"/>

<circle cx="655" cy="431.6" r="11" fill="#ff0000"/>

<circle cx="720" cy="423.5" r="11" fill="#ff0000"/>

<circle cx="784.4" cy="415.9" r="11" fill="#ff0000"/>

<circle cx="849.3" cy="408.3" r="11" fill="#ff0000"/>

<circle cx="914.8" cy="400.8" r="11" fill="#ff0000"/>

<circle cx="979.7" cy="392.5" r="11" fill="#ff0000"/>

<circle cx="1045" cy="384.1" r="11" fill="#ff0000"/>

<circle cx="1110.1" cy="375" r="11" fill="#ff0000"/>

<circle cx="1175.4" cy="366.1" r="11" fill="#ff0000"/>

<circle cx="1239.9" cy="354.4" r="11" fill="#ff0000"/>

<circle cx="1305.6" cy="344.7" r="11" fill="#ff0000"/>

<circle cx="1372" cy="334.2" r="11" fill="#ff0000"/>

<circle cx="1434.9" cy="322.8" r="11" fill="#ff0000"/>

<circle cx="1499.3" cy="310.2" r="11" fill="#ff0000"/>

<circle cx="1564.6" cy="295" r="11" fill="#ff0000"/>

<circle cx="1630.9" cy="278.7" r="11" fill="#ff0000"/>

<circle cx="1695.7" cy="251.6" r="11" fill="#ff0000"/>

<circle cx="1760.3" cy="223.4" r="11" fill="#ff0000"/>

<circle cx="1825.8" cy="201.5" r="11" fill="#ff0000"/>

<circle cx="1890.6" cy="164.6" r="11" fill="#ff0000"/>

<circle cx="1955.5" cy="118.5" r="11" fill="#ff0000"/>

<polyline points="199.5,602.6 264.5,680.5 329.4,665.1 394.4,652.8 461.1,640.5 524.7,628.8 590.5,612.8 655,601.4 720,589.5 784.4,578 849.3,566.1 914.8,554.8 979.7,543.5 1045,532.1 1110.1,520.4 1175.4,508.5 1239.9,496.3 1305.6,483.9 1372,471.3 1434.9,457.7 1499.3,442.5 1564.6,426.3 1630.9,410 1695.7,389.4 1760.3,367 1825.8,341 1890.6,311.4 1955.5,278.8" fill="none" stroke="#ff7f00" stroke-width="2.6"/>
<path d="M199.5 589.1L211.5 602.6L199.5 616.1L187.5 602.6Z" fill="#ff7f00"/>

<path d="M264.5 667L276.5 680.5L264.5 694L252.5 680.5Z" fill="#ff7f00"/>

<path d="M329.4 651.6L341.4 665.1L329.4 678.6L317.4 665.1Z" fill="#ff7f00"/>

<path d="M394.4 639.3L406.4 652.8L394.4 666.3L382.4 652.8Z" fill="#ff7f00"/>

<path d="M461.1 627L473.1 640.5L461.1 654L449.1 640.5Z" fill="#ff7f00"/>

<path d="M524.7 615.3L536.7 628.8L524.7 642.3L512.7 628.8Z" fill="#ff7f00"/>

<path d="M590.5 599.3L602.5 612.8L590.5 626.3L578.5 612.8Z" fill="#ff7f00"/>

<path d="M655 587.9L667 601.4L655 614.9L643 601.4Z" fill="#ff7f00"/>

<path d="M720 576L732 589.5L720 603L708 589.5Z" fill="#ff7f00"/>

<path d="M784.4 564.5L796.4 578L784.4 591.5L772.4 578Z" fill="#ff7f00"/>

<path d="M849.3 552.6L861.3 566.1L849.3 579.6L837.3 566.1Z" fill="#ff7f00"/>

<path d="M914.8 541.3L926.8 554.8L914.8 568.3L902.8 554.8Z" fill="#ff7f00"/>

<path d="M979.7 530L991.7 543.5L979.7 557L967.7 543.5Z" fill="#ff7f00"/>

<path d="M1045 518.6L1057 532.1L1045 545.6L1033 532.1Z" fill="#ff7f00"/>

<path d="M1110.1 506.9L1122.1 520.4L1110.1 533.9L1098.1 520.4Z" fill="#ff7f00"/>

<path d="M1175.4 495L1187.4 508.5L1175.4 522L1163.4 508.5Z" fill="#ff7f00"/>

<path d="M1239.9 482.8L1251.9 496.3L1239.9 509.8L1227.9 496.3Z" fill="#ff7f00"/>

<path d="M1305.6 470.4L1317.6 483.9L1305.6 497.4L1293.6 483.9Z" fill="#ff7f00"/>

<path d="M1372 457.8L1384 471.3L1372 484.8L1360 471.3Z" fill="#ff7f00"/>

<path d="M1434.9 444.2L1446.9 457.7L1434.9 471.2L1422.9 457.7Z" fill="#ff7f00"/>

<path d="M1499.3 429L1511.3 442.5L1499.3 456L1487.3 442.5Z" fill="#ff7f00"/>

<path d="M1564.6 412.8L1576.6 426.3L1564.6 439.8L1552.6 426.3Z" fill="#ff7f00"/>

<path d="M1630.9 396.5L1642.9 410L1630.9 423.5L1618.9 410Z" fill="#ff7f00"/>

<path d="M1695.7 375.9L1707.7 389.4L1695.7 402.9L1683.7 389.4Z" fill="#ff7f00"/>

<path d="M1760.3 353.5L1772.3 367L1760.3 380.5L1748.3 367Z" fill="#ff7f00"/>

<path d="M1825.8 327.5L1837.8 341L1825.8 354.5L1813.8 341Z" fill="#ff7f00"/>

<path d="M1890.6 297.9L1902.6 311.4L1890.6 324.9L1878.6 311.4Z" fill="#ff7f00"/>

<path d="M1955.5 265.3L1967.5 278.8L1955.5 292.3L1943.5 278.8Z" fill="#ff7f00"/>

</g>
<text x="97.9" y="230.5" font-size="55.5">10</text><text x="151.4" y="207" font-size="39.5">4</text>
<text x="97.9" y="849" font-size="55.5">10</text><text x="150.4" y="825.5" font-size="39.5">3</text>
<text x="97.9" y="1467" font-size="55.5">10</text><text x="150.9" y="1443.5" font-size="39.5">2</text>
<text x="164" y="1527" font-size="55.5">10</text><text x="218.5" y="1503.5" font-size="39.5">0</text>
<text x="1106.5" y="1527" font-size="55.5">10</text><text x="1161" y="1503.5" font-size="39.5">1</text>
<text x="2049.5" y="1527" font-size="55.5">10</text><text x="2104" y="1503.5" font-size="39.5">2</text>
<text x="948" y="1626.5" font-size="67" textLength="426" lengthAdjust="spacingAndGlyphs">Frequency (Hz)</text>
<g transform="translate(66.5,990) rotate(-90)">
<text x="-2.8" y="0" font-size="67">G′</text>
<text x="66.5" y="-2.5" font-size="56" font-family="'Liberation Serif','Noto Serif CJK SC',serif">（</text>
<text x="130" y="0" font-size="67" textLength="70.5" lengthAdjust="spacing">Pa</text>
<text x="204.5" y="-2.5" font-size="56" font-family="'Liberation Serif','Noto Serif CJK SC',serif">）</text>
<text x="266.5" y="0" font-size="67">/</text>
<text x="302.2" y="0" font-size="67">G″</text>
<text x="396" y="0" font-size="67" textLength="115.5" lengthAdjust="spacing">(Pa)</text>
</g>
<line x1="208" y1="67.3" x2="336.4" y2="67.3" stroke="#ff7f00" stroke-width="2.6"/>
<path d="M272.3 53.8L284.3 67.3L272.3 80.8L260.3 67.3Z" fill="#ff7f00"/>
<text x="348.2" y="86.8" font-size="57">50Al G′</text>
<path d="M208 136.8H259.5M285.1 136.8H336.4" stroke="#ff7f00" stroke-width="2.6"/>
<path d="M272.3 123.3L284.3 136.8L272.3 150.3L260.3 136.8Z" fill="none" stroke="#ff7f00" stroke-width="2.3" stroke-opacity="0.72"/>
<text x="348.2" y="156.3" font-size="57">50Al G″</text>
<line x1="208" y1="205.3" x2="336.4" y2="205.3" stroke="#0000ff" stroke-width="2.6"/>
<path d="M272.3 190L284.3 213L260.3 213Z" fill="#0000ff"/>
<text x="348.2" y="224.8" font-size="57">10C40Al G′</text>
<path d="M208 274.8H263.5M281.1 274.8H336.4" stroke="#0000ff" stroke-width="2.6"/>
<path d="M272.3 259.5L284.3 282.5L260.3 282.5Z" fill="none" stroke="#0000ff" stroke-width="2.3" stroke-opacity="0.72"/>
<text x="348.2" y="294.3" font-size="57">10C40Al G″</text>
<line x1="631.5" y1="67.3" x2="760.4" y2="67.3" stroke="#000000" stroke-width="2.6"/>
<rect x="685.4" y="57.5" width="19.5" height="19.5" fill="#000000"/>
<text x="770.4" y="86.8" font-size="57">5C45Al G′</text>
<path d="M631.5 136.8H684.6M705.6 136.8H760.4" stroke="#000000" stroke-width="2.6"/>
<rect x="685.6" y="127.3" width="19" height="19" fill="none" stroke="#000000" stroke-width="2.3" stroke-opacity="0.72"/>
<text x="770.4" y="156.3" font-size="57">5C45Al G″</text>
<line x1="631.5" y1="205.3" x2="760.4" y2="205.3" stroke="#ff0000" stroke-width="2.6"/>
<circle cx="695.1" cy="205.3" r="11" fill="#ff0000"/>
<text x="770.4" y="224.8" font-size="57">20C30Al G′</text>
<path d="M631.5 274.8H683.3M706.9 274.8H760.4" stroke="#ff0000" stroke-width="2.6"/>
<circle cx="695.1" cy="274.8" r="10.5" fill="none" stroke="#ff0000" stroke-width="2.3" stroke-opacity="0.72"/>
<text x="770.4" y="294.3" font-size="57">20C30Al G″</text>
</svg></body></html>
